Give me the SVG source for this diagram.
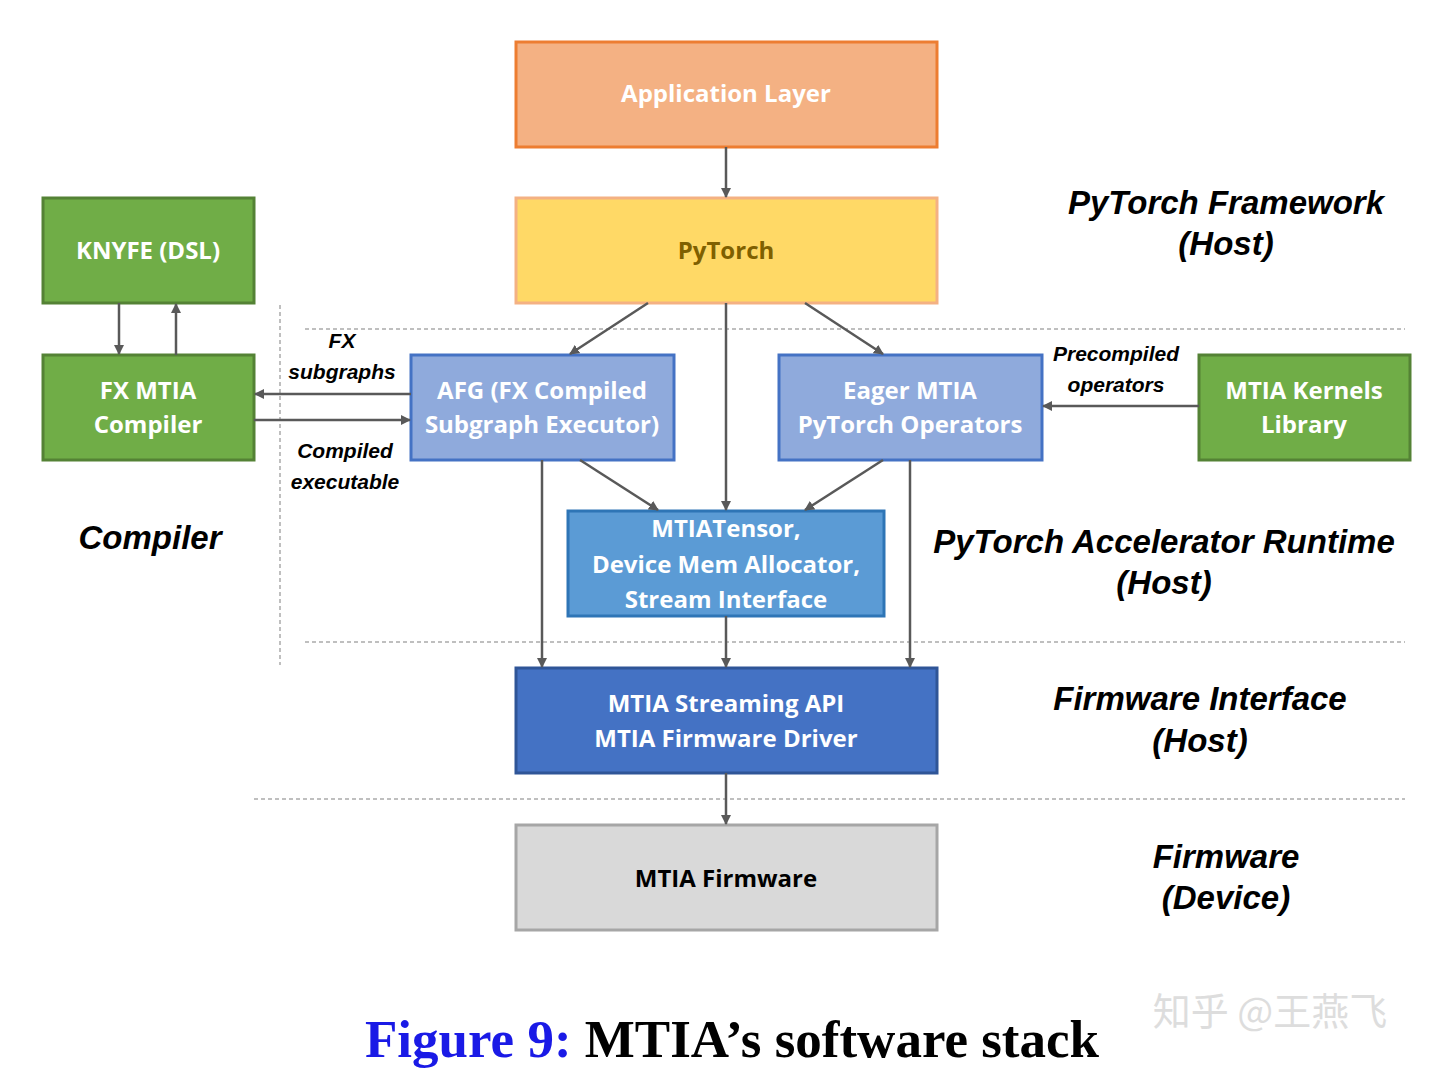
<svg xmlns="http://www.w3.org/2000/svg" width="1440" height="1069" viewBox="0 0 1440 1069">
<defs>
<marker id="ah" markerWidth="10" markerHeight="10" refX="9" refY="5" orient="auto" markerUnits="userSpaceOnUse"><path d="M0,0 L10,5 L0,10 z" fill="#595959"/></marker>
<style>
.n{stroke-width:3}
.t{font-family:"Open Sans","Liberation Sans",sans-serif;font-weight:bold;font-size:24px;text-anchor:middle;fill:#fff}
.l{font-family:"Liberation Sans",sans-serif;font-weight:bold;font-style:italic;fill:#000}
.s{font-size:21px;text-anchor:middle}
.b{font-size:33px;text-anchor:middle}
.c{stroke:#595959;stroke-width:2.5;fill:none;marker-end:url(#ah)}
.d{stroke:#aaa;stroke-width:1.5;stroke-dasharray:4 3;fill:none}
</style>
</defs>
<rect width="1440" height="1069" fill="#fff"/>
<g id="dividers">
<path class="d" d="M305 329H1405M305 642H1405M254 799H1405M280 305V665"/>
</g>
<g id="app"><rect class="n" x="516" y="42" width="421" height="105" fill="#F4B183" stroke="#ED7D31"/><text class="t" x="726" y="102">Application Layer</text></g>
<g id="pytorch"><rect class="n" x="516" y="198" width="421" height="105" fill="#FFD966" stroke="#F4B183"/><text class="t" x="726" y="259" style="fill:#7F6000">PyTorch</text></g>
<g id="knyfe"><rect class="n" x="43" y="198" width="211" height="105" fill="#70AD47" stroke="#548235"/><text class="t" x="148" y="259">KNYFE (DSL)</text></g>
<g id="fx"><rect class="n" x="43" y="355" width="211" height="105" fill="#70AD47" stroke="#548235"/><text class="t" x="148" y="399">FX MTIA</text><text class="t" x="148" y="433">Compiler</text></g>
<g id="afg"><rect class="n" x="411" y="355" width="263" height="105" fill="#8FAADC" stroke="#4472C4"/><text class="t" x="542" y="399">AFG (FX Compiled</text><text class="t" x="542" y="433">Subgraph Executor)</text></g>
<g id="eager"><rect class="n" x="779" y="355" width="263" height="105" fill="#8FAADC" stroke="#4472C4"/><text class="t" x="910" y="399">Eager MTIA</text><text class="t" x="910" y="433">PyTorch Operators</text></g>
<g id="kernels"><rect class="n" x="1199" y="355" width="211" height="105" fill="#70AD47" stroke="#548235"/><text class="t" x="1304" y="399">MTIA Kernels</text><text class="t" x="1304" y="433">Library</text></g>
<g id="tensor"><rect class="n" x="568" y="511" width="316" height="105" fill="#5B9BD5" stroke="#2E75B6"/><text class="t" x="726" y="537">MTIATensor,</text><text class="t" x="726" y="573">Device Mem Allocator,</text><text class="t" x="726" y="608">Stream Interface</text></g>
<g id="streaming"><rect class="n" x="516" y="668" width="421" height="105" fill="#4472C4" stroke="#2F5597"/><text class="t" x="726" y="712">MTIA Streaming API</text><text class="t" x="726" y="747">MTIA Firmware Driver</text></g>
<g id="firmware"><rect class="n" x="516" y="825" width="421" height="105" fill="#D9D9D9" stroke="#A6A6A6"/><text class="t" x="726" y="887" style="fill:#000">MTIA Firmware</text></g>
<g id="connectors">
<path class="c" d="M726 147V197"/>
<path class="c" d="M648 303L570 354"/>
<path class="c" d="M726 303V510"/>
<path class="c" d="M805 303L883 354"/>
<path class="c" d="M580 460L658 510"/>
<path class="c" d="M883 460L805 510"/>
<path class="c" d="M542 460V667"/>
<path class="c" d="M910 460V667"/>
<path class="c" d="M726 616V667"/>
<path class="c" d="M726 773V824"/>
<path class="c" d="M119 303V354"/>
<path class="c" d="M176 355V304"/>
<path class="c" d="M411 394H255"/>
<path class="c" d="M254 420H410"/>
<path class="c" d="M1199 406H1043"/>
</g>
<g id="labels">
<text class="l s" x="342" y="348">FX</text><text class="l s" x="342" y="379">subgraphs</text>
<text class="l s" x="345" y="458">Compiled</text><text class="l s" x="345" y="489">executable</text>
<text class="l s" x="1116" y="361">Precompiled</text><text class="l s" x="1116" y="392">operators</text>
<text class="l b" x="1226" y="214">PyTorch Framework</text><text class="l b" x="1226" y="255">(Host)</text>
<text class="l b" x="150" y="549">Compiler</text>
<text class="l b" x="1164" y="553">PyTorch Accelerator Runtime</text><text class="l b" x="1164" y="594">(Host)</text>
<text class="l b" x="1200" y="710">Firmware Interface</text><text class="l b" x="1200" y="752">(Host)</text>
<text class="l b" x="1226" y="868">Firmware</text><text class="l b" x="1226" y="909">(Device)</text>
</g>
<text x="1270" y="1025" font-family="'Noto Sans CJK SC',sans-serif" font-size="38" fill="#ddd" text-anchor="middle">知乎 @王燕飞</text>
<text x="732" y="1057" font-family="'Liberation Serif',serif" font-weight="bold" font-size="53" text-anchor="middle"><tspan fill="#1A1AE6">Figure 9:</tspan><tspan fill="#000"> MTIA’s software stack</tspan></text>
</svg>
